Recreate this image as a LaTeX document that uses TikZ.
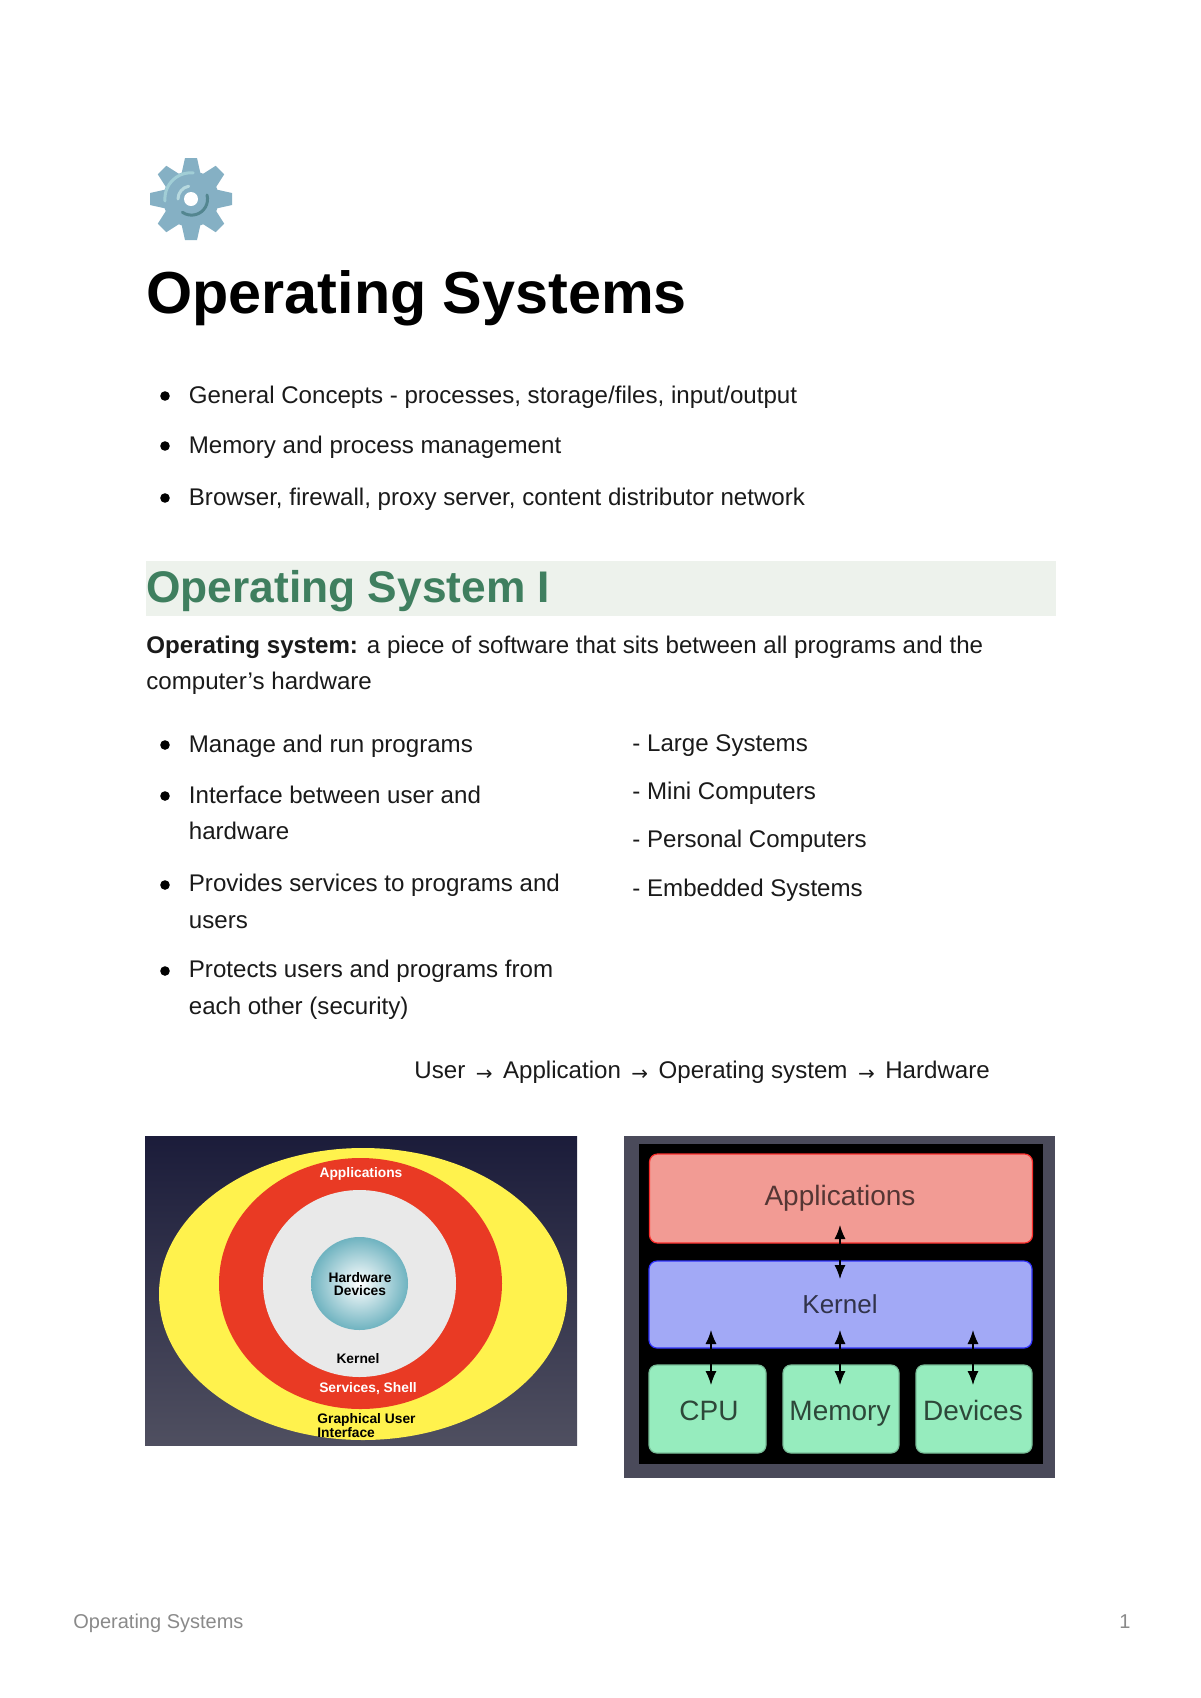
\documentclass[tikz,border=0pt]{standalone}
\usepackage{fontspec}
\setmainfont{Liberation Sans}
\newfontfamily\dejavu{DejaVu Sans}
\newcommand{\flowarrow}{\hspace{1.9pt} \raisebox{-1pt}{\dejavu\fontsize{10}{12}\selectfont →}\hspace{1.9pt} }
\definecolor{bandc}{HTML}{EDF2EC}
\definecolor{headc}{HTML}{3F7F5F}
\definecolor{bodyc}{HTML}{1A1A1A}
\definecolor{footc}{HTML}{8A8A8A}
\definecolor{gearc}{HTML}{85B0C4}
\definecolor{panelc}{HTML}{4A4A5A}
\definecolor{ptop}{HTML}{1B1C3A}
\definecolor{pbot}{HTML}{4F4F60}
\definecolor{yel}{HTML}{FFF24D}
\definecolor{redc}{HTML}{E93A24}
\definecolor{greyc}{HTML}{E9E9E9}
\definecolor{tealc}{HTML}{6FB3C0}
\definecolor{appc}{HTML}{F29B94}
\definecolor{kerc}{HTML}{A2A9F6}
\definecolor{grec}{HTML}{96ECBE}
\tikzset{
 x=0.5pt,y=-0.5pt,
 bodytext/.style={anchor=base west,inner sep=0,text=bodyc,font=\fontsize{12.05}{14}\selectfont},
 foot/.style={anchor=base west,inner sep=0,text=footc,font=\fontsize{10}{12}\selectfont},
 bul/.style={circle,fill=black,inner sep=0,minimum size=4.8pt},
 lab/.style={inner sep=0,font=\bfseries\fontsize{6.9}{8}\selectfont},
 box/.style={rounded corners=4pt,line width=0.6pt},
 big/.style={inner sep=0,anchor=base,font=\fontsize{14}{16}\selectfont},
 dbl/.style={{Latex[length=7pt,width=5.5pt]}-{Latex[length=7pt,width=5.5pt]},line width=0.6pt,black},
}
\usetikzlibrary{arrows.meta}
\begin{document}
\begin{tikzpicture}
\useasboundingbox (0,0) rectangle (1200,1698);
\fill[white] (0,0) rectangle (1200,1698);
% gear
\fill[gearc] (191,199) circle (28);
\foreach \a in {0,45,...,315}{
 \fill[gearc,rotate around={\a:(191,199)}] (185,158) -- (197,158) -- (201,176) -- (181,176) -- cycle;
}
\draw[line width=1.5pt,color=white!35!tealc,line cap=round] (165,201) arc (175:275:26);
\draw[line width=1.5pt,color=white!50!tealc,line cap=round] (178,199) arc (180:260:13);
\draw[line width=1.5pt,color=tealc!75!black,line cap=round] (207,195) arc (-15:125:16);
\fill[white] (191,199) circle (7);
% title
\node[anchor=base west,inner sep=0,font=\bfseries\fontsize{29.65}{32}\selectfont] (title) at (146,313) {Operating Systems};
% bullets 1
\node[bul] (b1) at (165,396) {};
\node[bodytext] (t1) at (188.5,403.5) {General Concepts - processes, storage/files, input/output};
\node[bul] (b2) at (165,446) {};
\node[bodytext] (t2) at (188.5,453.5) {Memory and process management};
\node[bul] (b3) at (165,498) {};
\node[bodytext] (t3) at (188.5,505) {Browser, firewall, proxy server, content distributor network};
% heading
\fill[bandc] (146,561) rectangle (1056,616);
\node[anchor=base west,inner sep=0,text=headc,font=\bfseries\fontsize{22.15}{24}\selectfont] (h) at (146,602) {Operating System I};
\node[bodytext] (p1) at (146,653.5) {\textbf{Operating system:} a piece of software that sits between all programs and the};
\node[bodytext] (p2) at (146,689.5) {computer’s hardware};
% bullets 2
\node[bul] (c1) at (165,745) {};
\node[bodytext] (c1t) at (188.5,752) {Manage and run programs};
\node[bul] (c2) at (165,796) {};
\node[bodytext] (c2t) at (188.5,803) {Interface between user and};
\node[bodytext] (c2u) at (188.5,839) {hardware};
\node[bul] (c3) at (165,885) {};
\node[bodytext] (c3t) at (188.5,891) {Provides services to programs and};
\node[bodytext] (c3u) at (188.5,928) {users};
\node[bul] (c4) at (165,971) {};
\node[bodytext] (c4t) at (188.5,977) {Protects users and programs from};
\node[bodytext] (c4u) at (188.5,1014) {each other (security)};
\node[bodytext] (d1) at (632,751) {- Large Systems};
\node[bodytext] (d2) at (632,799) {- Mini Computers};
\node[bodytext] (d3) at (632,847) {- Personal Computers};
\node[bodytext] (d4) at (632,896) {- Embedded Systems};
\node[bodytext] (flow) at (414,1078) {User\flowarrow Application\flowarrow Operating system\flowarrow Hardware};
% left panel
\shade[top color=ptop,bottom color=pbot] (145,1136) rectangle (577,1445);
\fill[yel] (363,1294) ellipse (204 and 146);
\fill[redc] (360.5,1283.5) ellipse (141.5 and 125.5);
\fill[greyc] (359.5,1283.5) ellipse (96.5 and 93.5);
\shade[inner color=white,outer color=tealc] (359.5,1283.5) ellipse (48.5 and 46.5);
\node[lab,text=white] (la) at (361,1174) {Applications};
\node[lab,align=center] (lh) at (360,1284) {Hardware\\[-1.2pt]Devices};
\node[lab] (lk) at (358,1359) {Kernel};
\node[lab,text=white] (ls) at (368,1389) {Services, Shell};
\node[lab,anchor=west] (lg) at (317,1420) {Graphical User};
\node[lab,anchor=west] (li) at (317,1433) {Interface};
% right panel
\fill[panelc] (624,1136) rectangle (1055,1478);
\fill[black] (639,1144) rectangle (1043,1464);
\node[box,draw=red!70!appc,fill=appc,minimum width=191.5pt,minimum height=44.5pt,inner sep=0] (rapp) at (841,1198.5) {};
\node[box,draw=blue!70!kerc,fill=kerc,minimum width=191.5pt,minimum height=43.5pt,inner sep=0] (rker) at (840.5,1304.5) {};
\node[box,draw=grec!80!black,fill=grec,minimum width=58.5pt,minimum height=44pt,inner sep=0] (rcpu) at (707.5,1409) {};
\node[box,draw=grec!80!black,fill=grec,minimum width=58pt,minimum height=44pt,inner sep=0] (rmem) at (841,1409) {};
\node[box,draw=grec!80!black,fill=grec,minimum width=58pt,minimum height=44pt,inner sep=0] (rdev) at (974,1409) {};
\node[big,text=appc!35!black] (tapp) at (840,1205) {Applications};
\node[big,text=kerc!30!black,font=\fontsize{13}{16}\selectfont] (tker) at (840,1313) {Kernel};
\node[big,text=grec!30!black] (tcpu) at (709,1420) {CPU};
\node[big,text=grec!30!black] (tmem) at (840,1420) {Memory};
\node[big,text=grec!30!black] (tdev) at (973,1420) {Devices};
\coordinate (a1) at (840,1225); \coordinate (a2) at (840,1279);
\coordinate (a3) at (711,1330); \coordinate (a4) at (711,1385);
\coordinate (a5) at (840,1330); \coordinate (a6) at (840,1385);
\coordinate (a7) at (973,1330); \coordinate (a8) at (973,1385);
\draw[dbl] (a1) -- (a2);
\draw[dbl] (a3) -- (a4);
\draw[dbl] (a5) -- (a6);
\draw[dbl] (a7) -- (a8);
% footer
\node[foot] (f1) at (73,1628) {Operating Systems};
\node[foot] (f2) at (1119,1628) {1};
\end{tikzpicture}
\end{document}
